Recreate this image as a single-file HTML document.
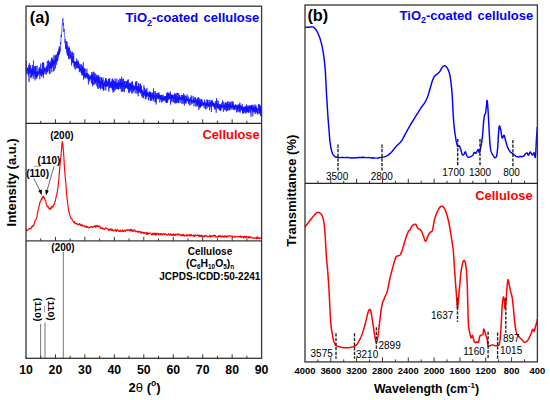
<!DOCTYPE html>
<html><head><meta charset="utf-8"><style>
html,body{margin:0;padding:0;background:#fff;}
svg{display:block;font-family:"Liberation Sans",sans-serif;}
.tl{font-weight:bold;font-size:12.3px;text-anchor:middle;}
.tb{font-weight:bold;font-size:9.4px;text-anchor:middle;}
.pk{font-size:10px;}
</style></head><body>
<svg width="550" height="400" viewBox="0 0 550 400">
<rect width="550" height="400" fill="#fff"/>
<!-- Panel a curves -->
<path d="M26.00,72.33 26.30,60.97 26.60,74.22 26.90,68.11 27.20,70.68 27.50,67.74 27.80,73.91 28.10,68.15 28.40,75.73 28.70,64.95 29.00,81.99 29.30,63.06 29.60,73.35 29.90,67.53 30.20,73.10 30.50,65.26 30.80,78.17 31.10,69.94 31.40,77.43 31.70,68.25 32.00,75.95 32.30,64.85 32.60,74.63 32.90,67.19 33.20,78.62 33.50,60.64 33.80,76.49 34.10,70.55 34.40,73.82 34.70,66.06 35.00,80.39 35.30,66.74 35.60,78.23 35.90,65.71 36.20,77.47 36.50,71.67 36.80,78.77 37.10,65.78 37.40,76.66 37.70,71.78 38.00,75.71 38.30,71.33 38.60,74.38 38.90,68.59 39.20,73.79 39.50,67.15 39.80,79.20 40.10,68.99 40.40,75.44 40.70,63.55 41.00,73.80 41.30,68.84 41.60,76.70 41.90,70.33 42.20,74.75 42.50,62.79 42.80,75.58 43.10,62.20 43.40,78.21 43.70,62.78 44.00,74.00 44.30,68.35 44.60,71.67 44.90,67.20 45.20,74.31 45.50,68.44 45.80,70.74 46.10,67.89 46.40,74.31 46.70,65.80 47.00,72.03 47.30,60.87 47.60,72.44 47.90,65.73 48.20,71.11 48.50,60.26 48.80,68.27 49.10,62.15 49.40,73.84 49.70,61.72 50.00,73.85 50.30,63.31 50.60,68.05 50.90,60.76 51.20,68.80 51.50,58.11 51.80,72.28 52.10,57.53 52.40,66.95 52.70,59.10 53.00,64.88 53.30,60.69 53.60,71.41 53.90,54.92 54.20,70.79 54.50,59.79 54.80,64.36 55.10,56.05 55.40,68.61 55.70,55.12 56.00,62.10 56.30,54.20 56.60,64.78 56.90,57.55 57.20,61.29 57.50,51.73 57.80,60.34 58.10,51.66 58.40,57.10 58.70,48.83 59.00,55.22 59.30,46.10 59.60,53.77 59.90,47.41 60.20,51.73 60.50,42.24 60.80,44.21 61.10,35.14 61.40,37.03 61.70,30.58 62.00,29.53 62.30,23.02 62.60,22.64 62.90,18.30 63.20,25.37 63.50,23.20 63.80,31.98 64.10,28.93 64.40,34.43 64.70,35.87 65.00,43.38 65.30,39.18 65.60,48.87 65.90,43.84 66.20,49.09 66.50,41.11 66.80,53.24 67.10,41.93 67.40,55.41 67.70,46.56 68.00,55.88 68.30,48.29 68.60,59.03 68.90,46.21 69.20,59.19 69.50,48.07 69.80,57.10 70.10,54.61 70.40,57.75 70.70,50.47 71.00,59.30 71.30,52.31 71.60,65.48 71.90,56.41 72.20,62.91 72.50,51.77 72.80,62.11 73.10,56.08 73.40,63.23 73.70,53.03 74.00,66.59 74.30,61.23 74.60,67.82 74.90,61.62 75.20,69.71 75.50,62.04 75.80,65.03 76.10,61.54 76.40,68.48 76.70,58.29 77.00,67.20 77.30,60.77 77.60,68.04 77.90,60.60 78.20,68.02 78.50,61.67 78.80,68.79 79.10,66.45 79.40,72.13 79.70,63.63 80.00,71.48 80.30,64.51 80.60,71.04 80.90,68.64 81.20,73.22 81.50,64.27 81.80,75.30 82.10,66.64 82.40,75.26 82.70,65.89 83.00,74.49 83.30,62.13 83.60,79.69 83.90,68.96 84.20,77.27 84.50,68.17 84.80,77.48 85.10,68.59 85.40,78.44 85.70,73.78 86.00,76.51 86.30,72.77 86.60,77.03 86.90,68.74 87.20,78.83 87.50,73.27 87.80,78.29 88.10,73.82 88.40,84.49 88.70,74.28 89.00,80.02 89.30,76.34 89.60,81.52 89.90,75.20 90.20,78.42 90.50,76.28 90.80,79.40 91.10,74.98 91.40,83.10 91.70,71.98 92.00,84.24 92.30,74.78 92.60,86.37 92.90,72.57 93.20,79.79 93.50,71.56 93.80,84.98 94.10,77.20 94.40,83.56 94.70,72.67 95.00,84.41 95.30,73.85 95.60,83.17 95.90,78.14 96.20,81.65 96.50,75.46 96.80,85.78 97.10,74.62 97.40,87.42 97.70,76.66 98.00,89.05 98.30,75.38 98.60,83.01 98.90,75.81 99.20,88.18 99.50,77.86 99.80,86.64 100.10,77.02 100.40,89.35 100.70,81.22 101.00,88.37 101.30,77.14 101.60,84.35 101.90,78.46 102.20,88.48 102.50,79.70 102.80,88.86 103.10,77.55 103.40,90.86 103.70,83.29 104.00,90.06 104.30,80.76 104.60,86.40 104.90,82.44 105.20,86.14 105.50,77.92 105.80,90.56 106.10,78.47 106.40,86.97 106.70,79.60 107.00,85.64 107.30,81.42 107.60,86.59 107.90,82.34 108.20,85.78 108.50,79.11 108.80,91.65 109.10,78.76 109.40,88.21 109.70,78.19 110.00,88.17 110.30,81.80 110.60,86.56 110.90,82.73 111.20,87.51 111.50,81.32 111.80,88.29 112.10,78.97 112.40,89.91 112.70,78.61 113.00,92.56 113.30,79.91 113.60,90.66 113.90,81.71 114.20,91.75 114.50,81.53 114.80,87.78 115.10,78.35 115.40,90.03 115.70,80.98 116.00,86.95 116.30,83.18 116.60,89.03 116.90,78.79 117.20,88.74 117.50,82.53 117.80,89.21 118.10,83.02 118.40,89.52 118.70,79.82 119.00,88.55 119.30,82.18 119.60,86.35 119.90,78.48 120.20,89.15 120.50,79.16 120.80,87.72 121.10,82.10 121.40,92.05 121.70,76.68 122.00,86.28 122.30,79.05 122.60,91.57 122.90,82.27 123.20,91.37 123.50,78.67 123.80,86.91 124.10,81.56 124.40,92.22 124.70,80.84 125.00,89.23 125.30,84.74 125.60,87.89 125.90,81.00 126.20,87.31 126.50,81.14 126.80,87.86 127.10,81.94 127.40,89.13 127.70,79.76 128.00,88.69 128.30,79.40 128.60,92.47 128.90,84.08 129.20,93.08 129.50,82.70 129.80,90.30 130.10,83.18 130.40,91.50 130.70,83.69 131.00,89.57 131.30,81.82 131.60,92.61 131.90,83.09 132.20,93.86 132.50,81.27 132.80,89.31 133.10,84.75 133.40,91.22 133.70,85.39 134.00,92.48 134.30,86.07 134.60,89.85 134.90,85.69 135.20,89.11 135.50,81.80 135.80,93.60 136.10,81.85 136.40,90.42 136.70,81.14 137.00,93.74 137.30,85.96 137.60,91.65 137.90,86.89 138.20,96.25 138.50,82.93 138.80,92.84 139.10,84.20 139.40,91.28 139.70,87.41 140.00,92.57 140.30,83.48 140.60,93.76 140.90,84.81 141.20,92.48 141.50,86.22 141.80,96.27 142.10,89.62 142.40,97.73 142.70,90.38 143.00,94.73 143.30,92.07 143.60,98.20 143.90,85.30 144.20,94.97 144.50,87.76 144.80,96.10 145.10,90.85 145.40,99.26 145.70,89.23 146.00,99.03 146.30,90.56 146.60,96.71 146.90,88.09 147.20,96.37 147.50,92.27 147.80,95.78 148.10,92.88 148.40,100.46 148.70,92.64 149.00,96.58 149.30,91.31 149.60,97.48 149.90,91.95 150.20,100.33 150.50,91.87 150.80,100.95 151.10,92.51 151.40,100.53 151.70,94.28 152.00,97.58 152.30,92.64 152.60,98.93 152.90,93.10 153.20,101.17 153.50,88.35 153.80,99.50 154.10,91.51 154.40,97.31 154.70,95.36 155.00,102.26 155.30,91.20 155.60,101.78 155.90,94.78 156.20,104.48 156.50,93.10 156.80,98.55 157.10,95.55 157.40,98.81 157.70,92.95 158.00,97.60 158.30,92.88 158.60,99.24 158.90,92.32 159.20,98.36 159.50,94.47 159.80,102.62 160.10,95.73 160.40,99.91 160.70,95.03 161.00,99.45 161.30,94.82 161.60,102.38 161.90,94.83 162.20,101.71 162.50,96.73 162.80,100.15 163.10,94.68 163.40,100.38 163.70,96.75 164.00,101.35 164.30,96.39 164.60,99.97 164.90,96.12 165.20,100.77 165.50,96.34 165.80,102.28 166.10,95.90 166.40,103.02 166.70,93.19 167.00,102.96 167.30,92.26 167.60,102.46 167.90,92.90 168.20,100.29 168.50,92.70 168.80,99.35 169.10,94.36 169.40,98.89 169.70,93.32 170.00,98.49 170.30,91.37 170.60,104.67 170.90,94.05 171.20,101.63 171.50,95.02 171.80,100.61 172.10,94.91 172.40,98.55 172.70,94.73 173.00,102.44 173.30,94.92 173.60,102.18 173.90,96.68 174.20,99.01 174.50,93.43 174.80,103.45 175.10,93.60 175.40,102.58 175.70,94.84 176.00,103.62 176.30,93.05 176.60,102.52 176.90,96.56 177.20,101.33 177.50,92.85 177.80,102.93 178.10,97.34 178.40,102.83 178.70,93.08 179.00,103.21 179.30,95.21 179.60,100.12 179.90,95.27 180.20,99.30 180.50,97.16 180.80,102.76 181.10,97.22 181.40,99.91 181.70,94.88 182.00,103.97 182.30,95.29 182.60,100.08 182.90,95.14 183.20,103.81 183.50,93.38 183.80,101.65 184.10,96.37 184.40,105.57 184.70,94.53 185.00,103.37 185.30,95.88 185.60,102.68 185.90,98.90 186.20,103.52 186.50,96.54 186.80,101.13 187.10,94.35 187.40,100.59 187.70,98.93 188.00,101.89 188.30,96.55 188.60,104.12 188.90,99.06 189.20,102.27 189.50,99.41 189.80,105.68 190.10,97.95 190.40,101.33 190.70,97.25 191.00,104.78 191.30,95.43 191.60,102.85 191.90,100.24 192.20,103.82 192.50,100.31 192.80,101.92 193.10,95.85 193.40,103.04 193.70,98.27 194.00,106.40 194.30,99.45 194.60,102.56 194.90,97.13 195.20,102.49 195.50,97.48 195.80,106.48 196.10,99.64 196.40,104.68 196.70,99.92 197.00,106.53 197.30,98.10 197.60,105.93 197.90,97.84 198.20,104.57 198.50,97.06 198.80,109.98 199.10,100.86 199.40,107.33 199.70,98.46 200.00,108.17 200.30,101.23 200.60,106.99 200.90,99.13 201.20,106.27 201.50,99.08 201.80,106.22 202.10,99.86 202.40,105.16 202.70,102.54 203.00,105.45 203.30,102.50 203.60,106.07 203.90,102.72 204.20,108.00 204.50,99.63 204.80,104.83 205.10,101.48 205.40,108.86 205.70,103.13 206.00,109.46 206.30,103.01 206.60,105.83 206.90,99.24 207.20,108.18 207.50,100.46 207.80,105.93 208.10,99.90 208.40,106.72 208.70,103.83 209.00,106.61 209.30,102.10 209.60,110.26 209.90,99.66 210.20,105.47 210.50,101.91 210.80,107.19 211.10,101.46 211.40,112.00 211.70,100.06 212.00,105.55 212.30,100.44 212.60,105.64 212.90,101.92 213.20,106.65 213.50,102.75 213.80,107.12 214.10,103.15 214.40,109.48 214.70,104.13 215.00,106.32 215.30,101.13 215.60,109.24 215.90,102.74 216.20,112.76 216.50,98.17 216.80,107.16 217.10,100.26 217.40,108.13 217.70,103.80 218.00,108.99 218.30,101.15 218.60,108.09 218.90,104.33 219.20,109.78 219.50,104.31 219.80,110.42 220.10,104.60 220.40,111.06 220.70,104.31 221.00,110.16 221.30,104.55 221.60,107.84 221.90,102.69 222.20,108.31 222.50,100.36 222.80,107.17 223.10,104.96 223.40,111.81 223.70,101.71 224.00,107.73 224.30,105.01 224.60,109.81 224.90,103.51 225.20,110.38 225.50,102.32 225.80,107.53 226.10,103.52 226.40,111.55 226.70,102.66 227.00,109.02 227.30,101.91 227.60,110.89 227.90,101.25 228.20,110.21 228.50,104.08 228.80,107.40 229.10,101.66 229.40,110.20 229.70,103.56 230.00,110.19 230.30,102.27 230.60,107.93 230.90,101.78 231.20,109.58 231.50,105.68 231.80,107.90 232.10,101.02 232.40,107.65 232.70,103.17 233.00,109.86 233.30,101.73 233.60,109.39 233.90,105.02 234.20,109.37 234.50,105.56 234.80,110.22 235.10,104.84 235.40,107.54 235.70,104.15 236.00,109.39 236.30,105.26 236.60,112.54 236.90,105.37 237.20,109.76 237.50,105.92 237.80,112.03 238.10,104.23 238.40,109.07 238.70,104.93 239.00,112.25 239.30,104.41 239.60,110.92 239.90,102.59 240.20,112.58 240.50,105.06 240.80,110.45 241.10,107.09 241.40,109.77 241.70,105.60 242.00,110.62 242.30,103.82 242.60,113.30 242.90,107.04 243.20,113.26 243.50,106.68 243.80,113.47 244.10,107.43 244.40,112.11 244.70,107.03 245.00,109.98 245.30,105.83 245.60,113.56 245.90,106.84 246.20,112.09 246.50,104.30 246.80,113.10 247.10,106.84 247.40,111.83 247.70,105.65 248.00,112.03 248.30,106.79 248.60,113.04 248.90,105.64 249.20,111.84 249.50,105.34 249.80,109.38 250.10,105.78 250.40,112.89 250.70,106.33 251.00,116.73 251.30,105.02 251.60,109.69 251.90,104.85 252.20,111.32 252.50,105.80 252.80,116.44 253.10,104.77 253.40,111.47 253.70,106.66 254.00,112.50 254.30,107.52 254.60,112.01 254.90,104.35 255.20,114.17 255.50,106.08 255.80,112.54 256.10,105.34 256.40,111.66 256.70,107.24 257.00,113.29 257.30,108.63 257.60,114.64 257.90,108.62 258.20,110.09 258.50,104.11 258.80,113.53 259.10,104.21 259.40,113.36 259.70,105.36 260.00,113.73 260.30,105.56 260.60,116.02 260.90,107.52 261.20,114.30" fill="none" stroke="#0000ff" stroke-width="0.6" stroke-linejoin="round"/>
<path d="M26.00,230.61 26.45,229.89 26.90,230.65 27.35,230.43 27.80,229.82 28.25,229.04 28.70,228.94 29.15,228.97 29.60,228.54 30.05,228.55 30.50,228.73 30.95,229.04 31.40,226.95 31.85,227.58 32.30,226.02 32.75,225.57 33.20,226.23 33.65,224.90 34.10,224.66 34.55,222.72 35.00,220.78 35.45,220.37 35.90,219.53 36.35,218.85 36.80,217.37 37.25,214.41 37.70,212.16 38.15,209.58 38.60,208.78 39.05,206.10 39.50,204.30 39.95,202.51 40.40,201.11 40.85,201.25 41.30,199.01 41.75,199.66 42.20,196.98 42.65,197.90 43.10,196.18 43.55,196.21 44.00,198.19 44.45,197.93 44.90,199.87 45.35,199.97 45.80,200.99 46.25,203.89 46.70,205.06 47.15,206.29 47.60,206.83 48.05,206.23 48.50,207.89 48.95,208.50 49.40,208.28 49.85,209.32 50.30,207.92 50.75,209.17 51.20,208.43 51.65,206.71 52.10,206.36 52.55,207.21 53.00,207.04 53.45,204.95 53.90,204.62 54.35,204.41 54.80,201.92 55.25,201.72 55.70,199.27 56.15,196.53 56.60,195.00 57.05,193.06 57.50,190.28 57.95,187.76 58.40,182.84 58.85,179.24 59.30,172.96 59.75,168.29 60.20,163.54 60.65,158.54 61.10,153.85 61.55,149.09 62.00,143.07 62.45,141.52 62.90,144.91 63.35,150.15 63.80,155.82 64.25,164.81 64.70,170.48 65.15,176.14 65.60,180.39 66.05,186.38 66.50,192.61 66.95,197.23 67.40,201.25 67.85,204.50 68.30,207.84 68.75,211.34 69.20,212.40 69.65,214.67 70.10,215.90 70.55,217.70 71.00,218.59 71.45,218.49 71.90,218.75 72.35,219.96 72.80,220.82 73.25,221.57 73.70,222.40 74.15,222.88 74.60,221.50 75.05,223.35 75.50,223.55 75.95,223.88 76.40,223.49 76.85,223.08 77.30,224.41 77.75,224.47 78.20,224.35 78.65,224.92 79.10,223.91 79.55,223.52 80.00,224.61 80.45,225.27 80.90,224.25 81.35,225.54 81.80,226.09 82.25,224.88 82.70,225.82 83.15,226.14 83.60,225.90 84.05,225.54 84.50,225.80 84.95,226.94 85.40,227.15 85.85,226.60 86.30,225.97 86.75,227.51 87.20,227.53 87.65,226.53 88.10,227.30 88.55,227.99 89.00,228.02 89.45,227.32 89.90,227.25 90.35,227.48 90.80,226.68 91.25,226.65 91.70,226.57 92.15,227.54 92.60,226.77 93.05,227.08 93.50,226.65 93.95,226.77 94.40,225.92 94.85,225.61 95.30,227.41 95.75,226.08 96.20,225.47 96.65,226.49 97.10,226.78 97.55,225.55 98.00,226.51 98.45,226.15 98.90,226.67 99.35,225.91 99.80,226.18 100.25,228.35 100.70,228.32 101.15,227.75 101.60,228.06 102.05,227.59 102.50,228.73 102.95,228.13 103.40,229.27 103.85,229.01 104.30,229.20 104.75,229.58 105.20,228.24 105.65,227.89 106.10,228.30 106.55,228.34 107.00,228.22 107.45,228.23 107.90,229.32 108.35,230.02 108.80,229.27 109.25,230.32 109.70,230.32 110.15,228.70 110.60,229.84 111.05,229.50 111.50,229.02 111.95,230.76 112.40,229.43 112.85,230.10 113.30,230.32 113.75,231.01 114.20,230.49 114.65,229.99 115.10,230.16 115.55,229.63 116.00,231.29 116.45,231.39 116.90,229.89 117.35,229.57 117.80,230.04 118.25,230.27 118.70,231.41 119.15,231.45 119.60,231.34 120.05,229.79 120.50,231.29 120.95,231.16 121.40,231.05 121.85,231.74 122.30,229.90 122.75,230.08 123.20,231.31 123.65,231.68 124.10,231.14 124.55,230.37 125.00,230.94 125.45,231.24 125.90,229.90 126.35,230.30 126.80,230.13 127.25,229.83 127.70,230.51 128.15,229.84 128.60,229.95 129.05,229.73 129.50,230.76 129.95,229.41 130.40,230.81 130.85,229.75 131.30,229.42 131.75,231.22 132.20,229.82 132.65,231.27 133.10,231.19 133.55,231.30 134.00,229.87 134.45,230.59 134.90,230.00 135.35,231.77 135.80,231.73 136.25,231.44 136.70,231.23 137.15,231.15 137.60,232.27 138.05,231.72 138.50,232.16 138.95,231.32 139.40,231.59 139.85,231.38 140.30,232.79 140.75,232.56 141.20,231.84 141.65,233.38 142.10,232.26 142.55,232.63 143.00,232.20 143.45,232.51 143.90,233.72 144.35,232.78 144.80,232.52 145.25,233.22 145.70,232.94 146.15,234.17 146.60,232.65 147.05,234.43 147.50,232.63 147.95,234.35 148.40,233.94 148.85,233.07 149.30,233.64 149.75,233.29 150.20,233.27 150.65,233.19 151.10,233.54 151.55,234.83 152.00,234.87 152.45,234.75 152.90,233.12 153.35,233.53 153.80,234.76 154.25,233.11 154.70,234.47 155.15,233.63 155.60,235.02 156.05,233.11 156.50,234.72 156.95,233.81 157.40,233.43 157.85,233.17 158.30,234.85 158.75,234.26 159.20,233.60 159.65,234.11 160.10,235.08 160.55,233.71 161.00,234.43 161.45,233.58 161.90,233.68 162.35,234.88 162.80,234.78 163.25,233.76 163.70,233.54 164.15,233.57 164.60,234.63 165.05,234.42 165.50,233.99 165.95,233.87 166.40,234.70 166.85,234.90 167.30,235.12 167.75,234.68 168.20,233.93 168.65,233.67 169.10,235.02 169.55,234.38 170.00,235.01 170.45,233.69 170.90,235.21 171.35,234.27 171.80,235.29 172.25,235.35 172.70,234.61 173.15,233.67 173.60,235.47 174.05,234.61 174.50,235.41 174.95,234.21 175.40,234.07 175.85,235.37 176.30,234.46 176.75,234.07 177.20,234.50 177.65,234.97 178.10,233.81 178.55,234.86 179.00,234.74 179.45,234.91 179.90,234.15 180.35,235.38 180.80,235.62 181.25,235.76 181.70,234.72 182.15,235.55 182.60,234.93 183.05,235.71 183.50,234.37 183.95,236.04 184.40,236.23 184.85,235.35 185.30,235.42 185.75,235.48 186.20,235.52 186.65,234.51 187.10,236.42 187.55,234.96 188.00,234.89 188.45,234.75 188.90,235.06 189.35,236.21 189.80,234.65 190.25,234.79 190.70,236.01 191.15,235.01 191.60,234.67 192.05,235.84 192.50,235.81 192.95,235.71 193.40,236.08 193.85,234.89 194.30,236.43 194.75,236.14 195.20,234.81 195.65,234.97 196.10,235.72 196.55,235.74 197.00,235.31 197.45,235.00 197.90,235.58 198.35,235.05 198.80,235.97 199.25,236.52 199.70,235.10 200.15,235.96 200.60,236.31 201.05,235.16 201.50,236.49 201.95,236.72 202.40,235.63 202.85,235.71 203.30,236.55 203.75,235.94 204.20,235.68 204.65,236.79 205.10,236.47 205.55,235.60 206.00,235.41 206.45,235.61 206.90,235.83 207.35,236.93 207.80,236.58 208.25,236.81 208.70,236.62 209.15,236.70 209.60,235.12 210.05,236.06 210.50,236.95 210.95,236.91 211.40,235.55 211.85,235.91 212.30,236.34 212.75,235.81 213.20,236.16 213.65,235.24 214.10,235.98 214.55,236.14 215.00,235.18 215.45,235.42 215.90,237.10 216.35,236.72 216.80,237.05 217.25,236.45 217.70,236.82 218.15,236.98 218.60,236.99 219.05,235.30 219.50,236.53 219.95,235.78 220.40,236.62 220.85,235.82 221.30,236.37 221.75,237.15 222.20,236.55 222.65,235.82 223.10,236.37 223.55,236.21 224.00,237.26 224.45,235.94 224.90,235.99 225.35,236.68 225.80,235.64 226.25,236.60 226.70,237.33 227.15,236.46 227.60,235.98 228.05,236.38 228.50,236.53 228.95,235.77 229.40,235.73 229.85,235.76 230.30,236.09 230.75,236.33 231.20,236.11 231.65,236.03 232.10,235.73 232.55,236.66 233.00,237.26 233.45,236.82 233.90,236.75 234.35,236.93 234.80,236.04 235.25,237.08 235.70,236.59 236.15,236.78 236.60,236.93 237.05,236.66 237.50,236.36 237.95,236.24 238.40,236.22 238.85,236.82 239.30,236.58 239.75,237.01 240.20,235.88 240.65,236.58 241.10,237.62 241.55,236.40 242.00,237.06 242.45,236.95 242.90,236.56 243.35,237.99 243.80,236.63 244.25,237.60 244.70,236.40 245.15,236.24 245.60,237.87 246.05,237.03 246.50,236.30 246.95,236.98 247.40,237.11 247.85,237.72 248.30,236.50 248.75,236.75 249.20,238.25 249.65,237.83 250.10,236.69 250.55,237.08 251.00,237.13 251.45,237.80 251.90,237.71 252.35,238.20 252.80,238.17 253.25,237.59 253.70,238.06 254.15,238.09 254.60,238.15 255.05,237.61 255.50,238.25 255.95,238.13 256.40,238.57 256.85,237.02 257.30,238.53 257.75,236.82 258.20,238.37 258.65,238.04 259.10,237.89 259.55,238.84 260.00,238.09 260.45,237.80 260.90,238.56" fill="none" stroke="#ff0000" stroke-width="1.15" stroke-linejoin="round"/>
<!-- reference lines -->
<g stroke="#777" stroke-width="1">
<line x1="40.6" y1="324" x2="40.6" y2="358"/>
<line x1="45" y1="322.5" x2="45" y2="358"/>
<line x1="63.3" y1="252" x2="63.3" y2="358"/>
<line x1="44.5" y1="306" x2="44.5" y2="312.5" stroke="#999"/>
</g>
<!-- Panel b curves -->
<path d="M305.00,27.00 305.42,27.05 306.01,27.13 306.69,27.21 307.38,27.27 308.00,27.30 308.53,27.27 309.04,27.21 309.52,27.13 310.01,27.05 310.50,27.00 311.00,26.95 311.50,26.88 312.00,26.84 312.50,26.87 313.00,27.00 313.50,27.23 314.00,27.54 314.50,27.92 315.00,28.41 315.50,29.00 316.01,29.73 316.52,30.60 317.04,31.54 317.53,32.53 318.00,33.50 318.43,34.43 318.84,35.34 319.22,36.30 319.61,37.33 320.00,38.50 320.41,39.85 320.83,41.34 321.25,42.92 321.64,44.49 322.00,46.00 322.31,47.43 322.58,48.84 322.84,50.22 323.07,51.61 323.30,53.00 323.52,54.35 323.73,55.66 323.92,56.98 324.11,58.41 324.30,60.00 324.49,61.81 324.68,63.78 324.87,65.86 325.04,67.95 325.20,70.00 325.34,71.97 325.46,73.90 325.57,75.86 325.68,77.87 325.80,80.00 325.92,82.26 326.03,84.61 326.15,87.03 326.27,89.50 326.40,92.00 326.55,94.54 326.71,97.15 326.87,99.79 327.04,102.42 327.20,105.00 327.36,107.53 327.51,110.04 327.67,112.52 327.83,115.01 328.00,117.50 328.19,120.04 328.40,122.62 328.60,125.18 328.81,127.66 329.00,130.00 329.17,132.19 329.32,134.28 329.46,136.26 329.62,138.17 329.80,140.00 330.01,141.77 330.24,143.46 330.48,145.08 330.73,146.59 331.00,148.00 331.27,149.30 331.55,150.51 331.85,151.62 332.16,152.62 332.50,153.50 332.86,154.24 333.24,154.86 333.64,155.37 334.06,155.81 334.50,156.20 334.88,156.54 335.20,157.05 335.58,157.07 336.14,157.07 337.00,157.27 338.22,157.38 339.71,157.64 341.39,157.38 343.18,157.48 345.00,157.64 346.87,157.57 348.86,157.59 350.90,157.96 352.97,158.04 355.00,157.80 357.00,157.72 359.00,157.46 361.00,157.46 363.00,157.27 365.00,157.55 367.05,157.61 369.14,157.36 371.22,158.07 373.19,157.74 375.00,158.14 376.62,158.12 378.10,158.15 379.47,157.53 380.76,157.60 382.00,157.40 383.18,157.15 384.27,156.86 385.30,156.51 386.29,156.10 387.25,155.60 388.18,155.02 389.05,154.38 389.90,153.66 390.74,152.86 391.60,152.00 392.46,151.04 393.32,149.97 394.18,148.85 395.06,147.71 396.00,146.60 397.01,145.56 398.08,144.55 399.17,143.53 400.24,142.43 401.25,141.20 402.18,139.81 403.05,138.30 403.90,136.70 404.74,135.09 405.60,133.50 406.51,131.88 407.44,130.18 408.37,128.51 409.23,126.96 410.00,125.60 410.61,124.55 411.08,123.73 411.52,123.01 411.99,122.23 412.60,121.25 413.36,120.02 414.23,118.64 415.15,117.18 416.09,115.69 417.00,114.25 417.89,112.82 418.80,111.35 419.70,109.90 420.57,108.52 421.40,107.25 422.18,106.16 422.93,105.21 423.64,104.31 424.33,103.38 425.00,102.30 425.65,101.07 426.28,99.75 426.88,98.36 427.46,96.93 428.00,95.50 428.50,94.04 428.95,92.55 429.39,91.03 429.81,89.51 430.25,88.00 430.70,86.45 431.15,84.86 431.60,83.28 432.05,81.81 432.50,80.50 432.94,79.37 433.36,78.38 433.80,77.50 434.25,76.72 434.75,76.00 435.31,75.39 435.93,74.89 436.57,74.46 437.19,74.05 437.75,73.60 438.25,73.15 438.70,72.72 439.14,72.28 439.56,71.78 440.00,71.20 440.45,70.46 440.90,69.59 441.35,68.69 441.80,67.86 442.25,67.20 442.71,66.72 443.19,66.35 443.65,66.08 444.10,65.90 444.50,65.80 444.85,65.78 445.15,65.87 445.44,66.03 445.71,66.24 446.00,66.50 446.29,66.75 446.56,67.01 446.85,67.35 447.15,67.82 447.50,68.50 447.91,69.37 448.38,70.40 448.87,71.58 449.34,72.95 449.75,74.50 450.11,76.29 450.43,78.30 450.72,80.48 450.99,82.73 451.25,85.00 451.49,87.21 451.71,89.40 451.91,91.70 452.11,94.19 452.30,97.00 452.49,100.30 452.66,104.01 452.83,107.87 453.01,111.62 453.20,115.00 453.41,117.98 453.62,120.75 453.84,123.33 454.07,125.74 454.30,128.00 454.54,130.11 454.78,132.06 455.03,133.84 455.27,135.49 455.50,137.00 455.71,138.35 455.90,139.52 456.09,140.58 456.29,141.55 456.50,142.50 456.73,143.47 456.97,144.44 457.22,145.31 457.48,146.03 457.75,146.50 458.03,146.58 458.33,146.33 458.64,145.95 458.95,145.69 459.25,145.75 459.55,146.19 459.85,146.87 460.15,147.69 460.45,148.60 460.75,149.50 461.05,150.50 461.35,151.64 461.65,152.78 461.95,153.78 462.25,154.50 462.55,154.91 462.85,155.10 463.15,155.11 463.45,154.98 463.75,154.75 464.05,154.25 464.35,153.46 464.65,152.62 464.95,151.97 465.25,151.75 465.55,152.10 465.85,152.86 466.15,153.82 466.45,154.77 466.75,155.50 467.04,156.02 467.31,156.48 467.60,156.85 467.90,157.12 468.25,157.30 468.65,157.35 469.10,157.28 469.56,157.12 470.04,156.92 470.50,156.70 470.96,156.48 471.44,156.22 471.90,155.93 472.35,155.59 472.75,155.20 473.10,154.68 473.40,154.04 473.69,153.39 473.96,152.84 474.25,152.50 474.55,152.48 474.85,152.70 475.15,153.00 475.45,153.24 475.75,153.25 476.06,152.98 476.37,152.53 476.68,151.99 476.98,151.45 477.25,151.00 477.49,150.58 477.70,150.13 477.89,149.74 478.09,149.50 478.30,149.50 478.53,149.96 478.75,150.83 478.99,151.77 479.24,152.44 479.50,152.50 479.78,151.86 480.08,150.75 480.39,149.31 480.70,147.68 481.00,146.00 481.31,144.29 481.62,142.44 481.93,140.46 482.23,138.31 482.50,136.00 482.75,133.34 482.98,130.33 483.19,127.25 483.40,124.38 483.60,122.00 483.79,120.16 483.97,118.67 484.14,117.45 484.32,116.42 484.50,115.50 484.70,114.80 484.90,114.38 485.11,114.06 485.31,113.66 485.50,113.00 485.67,112.03 485.84,110.88 486.00,109.60 486.15,108.29 486.30,107.00 486.45,105.57 486.59,103.96 486.73,102.40 486.87,101.17 487.00,100.50 487.12,100.44 487.24,100.82 487.36,101.58 487.48,102.66 487.60,104.00 487.73,105.69 487.87,107.76 488.02,110.10 488.16,112.55 488.30,115.00 488.44,117.49 488.58,120.10 488.72,122.78 488.86,125.43 489.00,128.00 489.14,130.53 489.28,133.06 489.42,135.54 489.56,137.87 489.70,140.00 489.83,141.91 489.96,143.66 490.09,145.24 490.23,146.69 490.40,148.00 490.58,149.14 490.76,150.09 490.96,150.92 491.20,151.70 491.50,152.50 491.89,153.33 492.35,154.16 492.85,154.95 493.33,155.66 493.75,156.25 494.10,156.75 494.40,157.19 494.69,157.53 494.96,157.73 495.25,157.75 495.56,157.66 495.87,157.47 496.18,157.10 496.48,156.47 496.75,155.50 496.99,154.10 497.22,152.34 497.43,150.33 497.62,148.18 497.80,146.00 497.96,143.70 498.10,141.19 498.22,138.63 498.35,136.18 498.50,134.00 498.66,131.94 498.82,129.91 498.99,128.10 499.18,126.73 499.40,126.00 499.66,126.07 499.97,126.79 500.29,127.95 500.60,129.29 500.90,130.60 501.16,132.08 501.41,133.89 501.65,135.70 501.90,137.21 502.20,138.10 502.54,138.05 502.92,137.27 503.32,136.24 503.72,135.42 504.10,135.30 504.46,136.03 504.82,137.31 505.18,138.83 505.54,140.78 505.90,141.56 506.26,142.78 506.61,144.30 506.97,145.37 507.36,146.75 507.80,147.69 508.30,148.57 508.86,149.93 509.44,150.58 510.03,151.47 510.60,152.33 511.16,152.66 511.72,153.00 512.28,153.44 512.84,153.54 513.40,154.31 513.95,154.62 514.49,155.09 515.04,155.37 515.62,156.06 516.25,156.43 516.94,156.71 517.69,156.76 518.46,156.92 519.24,156.90 520.00,156.49 520.76,156.43 521.54,156.56 522.31,156.77 523.06,156.17 523.75,156.02 524.39,155.66 525.01,154.40 525.58,153.66 526.11,153.43 526.60,152.98 527.03,152.94 527.39,153.22 527.72,154.48 528.05,154.92 528.40,155.22 528.77,155.02 529.15,154.25 529.54,153.10 529.92,152.24 530.30,152.05 530.68,152.49 531.06,153.15 531.45,153.74 531.83,154.44 532.20,155.09 532.57,154.88 532.95,154.16 533.31,153.95 533.67,153.19 534.00,152.68 534.31,153.70 534.60,155.43 534.88,156.56 535.15,157.61 535.40,156.55 535.64,154.33 535.88,150.89 536.10,146.16 536.30,141.74 536.50,138.10 536.69,135.19 536.88,132.54 537.05,130.21 537.20,128.30 537.30,126.90" fill="none" stroke="#0000ff" stroke-width="1.45" stroke-linejoin="round"/>
<path d="M305.00,227.00 305.39,226.47 305.94,225.74 306.58,224.86 307.29,223.93 308.00,223.00 308.74,222.06 309.53,221.06 310.35,220.03 311.18,219.00 312.00,218.00 312.83,216.96 313.68,215.87 314.52,214.82 315.30,213.90 316.00,213.20 316.58,212.75 317.07,212.48 317.50,212.36 317.93,212.34 318.40,212.40 318.92,212.53 319.45,212.75 319.99,213.07 320.52,213.49 321.00,214.00 321.45,214.58 321.87,215.24 322.27,216.00 322.65,216.91 323.00,218.00 323.33,219.31 323.63,220.82 323.91,222.46 324.17,224.21 324.40,226.00 324.60,227.81 324.76,229.66 324.91,231.62 325.05,233.71 325.20,236.00 325.36,238.58 325.52,241.41 325.68,244.35 325.84,247.26 326.00,250.00 326.16,252.59 326.32,255.14 326.48,257.58 326.64,259.89 326.80,262.00 326.95,263.66 327.09,264.91 327.24,266.13 327.40,267.70 327.60,270.00 327.85,273.23 328.14,277.14 328.44,281.42 328.74,285.81 329.00,290.00 329.23,294.09 329.43,298.26 329.63,302.40 329.81,306.35 330.00,310.00 330.18,313.32 330.34,316.40 330.50,319.27 330.68,321.96 330.90,324.50 331.16,326.87 331.46,329.06 331.78,331.09 332.10,332.96 332.40,334.70 332.67,336.29 332.93,337.72 333.19,339.02 333.47,340.20 333.80,341.30 334.15,342.30 334.52,343.19 334.92,343.98 335.41,344.68 336.00,345.30 336.72,345.82 337.53,346.23 338.43,346.56 339.40,346.85 340.40,347.10 341.47,347.33 342.62,347.53 343.81,347.67 345.02,347.77 346.20,347.80 347.38,347.77 348.59,347.69 349.78,347.56 350.93,347.36 352.00,347.10 352.98,346.81 353.90,346.50 354.76,346.11 355.59,345.59 356.40,344.90 357.18,343.99 357.93,342.91 358.65,341.70 359.34,340.41 360.00,339.10 360.62,337.78 361.21,336.43 361.77,335.00 362.33,333.47 362.90,331.80 363.49,329.93 364.09,327.88 364.69,325.74 365.26,323.62 365.80,321.60 366.30,319.61 366.76,317.59 367.20,315.65 367.62,313.91 368.00,312.50 368.35,311.43 368.66,310.62 368.94,310.05 369.22,309.68 369.50,309.50 369.77,309.40 370.03,309.39 370.29,309.63 370.57,310.28 370.90,311.50 371.29,313.48 371.74,316.12 372.20,319.12 372.67,322.18 373.10,325.00 373.51,327.68 373.91,330.43 374.29,333.08 374.66,335.49 375.00,337.50 375.31,339.17 375.59,340.61 375.86,341.72 376.12,342.42 376.40,342.60 376.69,342.22 376.98,341.35 377.28,340.05 377.59,338.40 377.90,336.50 378.22,334.25 378.54,331.59 378.87,328.66 379.22,325.59 379.60,322.50 380.00,319.22 380.42,315.67 380.86,312.11 381.32,308.80 381.80,306.00 382.31,303.82 382.85,302.09 383.41,300.65 383.96,299.34 384.50,298.00 385.03,296.67 385.57,295.46 386.09,294.30 386.57,293.17 387.00,292.00 387.35,290.83 387.63,289.70 387.88,288.54 388.12,287.33 388.40,286.00 388.68,284.58 388.96,283.11 389.25,281.55 389.59,279.86 390.00,278.00 390.52,275.88 391.11,273.53 391.75,271.09 392.40,268.70 393.00,266.50 393.57,264.42 394.14,262.36 394.70,260.44 395.22,258.78 395.70,257.50 396.11,256.71 396.46,256.32 396.79,256.19 397.13,256.13 397.50,256.00 397.92,255.86 398.37,255.83 398.83,255.78 399.29,255.63 399.75,255.25 400.18,254.70 400.59,254.04 401.02,253.22 401.48,252.14 402.00,250.75 402.61,248.88 403.30,246.58 404.02,244.08 404.73,241.64 405.40,239.50 406.03,237.60 406.66,235.80 407.26,234.15 407.81,232.72 408.30,231.60 408.69,230.92 409.00,230.62 409.28,230.51 409.56,230.37 409.90,230.00 410.28,229.32 410.68,228.47 411.10,227.56 411.57,226.70 412.10,226.00 412.72,225.41 413.43,224.84 414.17,224.39 414.87,224.15 415.50,224.20 416.01,224.66 416.43,225.49 416.83,226.48 417.25,227.46 417.75,228.25 418.37,228.76 419.06,229.12 419.78,229.45 420.48,229.86 421.10,230.50 421.63,231.41 422.10,232.52 422.54,233.73 422.96,234.95 423.40,236.10 423.84,237.33 424.28,238.71 424.72,239.99 425.16,240.93 425.60,241.30 426.06,240.90 426.52,239.90 426.98,238.58 427.44,237.22 427.90,236.10 428.34,235.22 428.78,234.38 429.22,233.61 429.66,232.91 430.10,232.30 430.56,231.96 431.02,231.89 431.48,231.80 431.94,231.43 432.40,230.50 432.83,228.82 433.23,226.57 433.64,224.04 434.08,221.51 434.60,219.25 435.20,217.23 435.87,215.25 436.58,213.39 437.30,211.70 438.00,210.25 438.68,209.01 439.36,207.94 440.04,207.08 440.72,206.49 441.40,206.20 442.07,206.22 442.74,206.51 443.41,207.08 444.08,207.94 444.75,209.10 445.43,210.58 446.11,212.37 446.79,214.44 447.46,216.75 448.10,219.25 448.72,222.05 449.33,225.18 449.91,228.49 450.47,231.81 451.00,235.00 451.50,238.05 451.99,241.05 452.44,244.04 452.84,247.01 453.20,250.00 453.48,253.00 453.70,256.00 453.89,259.00 454.06,262.00 454.25,265.00 454.46,268.05 454.68,271.14 454.89,274.22 455.10,277.19 455.30,280.00 455.49,282.62 455.68,285.09 455.85,287.45 456.03,289.74 456.20,292.00 456.37,294.27 456.54,296.53 456.71,298.71 456.86,300.72 457.00,302.50 457.11,304.17 457.21,305.79 457.29,307.15 457.39,308.05 457.50,308.30 457.63,307.78 457.78,306.62 457.94,305.00 458.11,303.07 458.30,301.00 458.51,298.72 458.74,296.12 458.98,293.31 459.23,290.40 459.50,287.50 459.78,284.50 460.08,281.32 460.39,278.14 460.70,275.14 461.00,272.50 461.30,270.22 461.60,268.18 461.90,266.38 462.20,264.82 462.50,263.50 462.80,262.42 463.10,261.58 463.40,260.98 463.70,260.62 464.00,260.50 464.30,260.60 464.61,260.91 464.92,261.47 465.22,262.32 465.50,263.50 465.77,265.03 466.03,266.90 466.27,269.04 466.50,271.43 466.70,274.00 466.88,276.86 467.03,280.05 467.17,283.41 467.29,286.78 467.40,290.00 467.49,292.99 467.57,295.85 467.63,298.71 467.71,301.72 467.80,305.00 467.91,308.83 468.03,313.11 468.17,317.44 468.32,321.44 468.50,324.70 468.70,327.08 468.93,328.83 469.18,330.19 469.44,331.38 469.70,332.60 469.97,333.95 470.25,335.29 470.54,336.48 470.82,337.39 471.10,337.90 471.37,337.76 471.63,337.06 471.89,336.15 472.15,335.41 472.40,335.20 472.64,335.65 472.88,336.52 473.11,337.60 473.35,338.70 473.60,339.60 473.86,340.35 474.13,341.08 474.41,341.73 474.70,342.26 475.00,342.60 475.32,342.68 475.65,342.54 476.00,342.29 476.35,342.04 476.70,341.90 477.06,342.00 477.43,342.26 477.80,342.49 478.16,342.53 478.50,342.20 478.78,341.32 479.01,340.01 479.24,338.53 479.52,337.14 479.90,336.10 480.43,335.54 481.09,335.28 481.78,335.13 482.42,334.90 482.90,334.40 483.19,333.43 483.35,332.12 483.44,330.76 483.54,329.65 483.70,329.10 483.94,329.22 484.22,329.82 484.52,330.71 484.82,331.70 485.10,332.60 485.37,333.45 485.65,334.38 485.92,335.33 486.17,336.22 486.40,337.00 486.59,337.58 486.75,338.00 486.90,338.39 487.04,338.88 487.20,339.60 487.36,340.69 487.51,342.08 487.67,343.53 487.86,344.81 488.10,345.70 488.39,346.10 488.72,346.18 489.08,346.05 489.47,345.85 489.90,345.70 490.37,345.57 490.88,345.36 491.42,345.14 491.97,344.97 492.50,344.90 493.01,344.98 493.51,345.16 494.01,345.38 494.54,345.58 495.10,345.70 495.75,345.77 496.46,345.83 497.18,345.82 497.85,345.70 498.40,345.40 498.81,344.98 499.12,344.48 499.36,343.81 499.58,342.88 499.80,341.60 500.03,339.90 500.24,337.85 500.43,335.54 500.62,333.09 500.80,330.60 500.98,328.00 501.14,325.23 501.30,322.38 501.45,319.57 501.60,316.90 501.73,314.34 501.85,311.83 501.96,309.40 502.09,307.11 502.25,305.00 502.45,302.94 502.68,300.89 502.93,299.06 503.17,297.66 503.40,296.90 503.62,296.93 503.83,297.60 504.04,298.70 504.23,300.00 504.40,301.25 504.54,302.75 504.65,304.64 504.75,306.50 504.86,307.93 505.00,308.50 505.18,308.06 505.38,306.90 505.59,305.22 505.80,303.27 506.00,301.25 506.18,299.03 506.36,296.46 506.54,293.75 506.72,291.11 506.90,288.75 507.09,286.52 507.29,284.27 507.49,282.25 507.69,280.66 507.90,279.75 508.11,279.66 508.31,280.25 508.52,281.27 508.75,282.52 509.00,283.75 509.29,285.07 509.62,286.62 509.96,288.26 510.29,289.85 510.60,291.25 510.88,292.35 511.15,293.25 511.40,294.10 511.65,295.05 511.90,296.25 512.14,297.60 512.36,299.00 512.58,300.60 512.82,302.55 513.10,305.00 513.42,308.25 513.78,312.20 514.15,316.39 514.53,320.38 514.90,323.70 515.25,326.32 515.60,328.53 515.94,330.41 516.31,332.01 516.70,333.40 517.12,334.49 517.56,335.25 518.02,335.79 518.50,336.27 519.00,336.80 519.53,337.38 520.09,337.93 520.66,338.45 521.24,338.96 521.80,339.50 522.34,340.12 522.88,340.81 523.42,341.48 523.96,342.01 524.50,342.30 525.07,342.32 525.65,342.14 526.23,341.81 526.79,341.38 527.30,340.90 527.75,340.37 528.15,339.75 528.53,339.06 528.91,338.30 529.30,337.50 529.72,336.61 530.17,335.62 530.61,334.59 531.02,333.60 531.40,332.70 531.73,331.83 532.02,330.94 532.28,330.13 532.54,329.52 532.80,329.20 533.06,329.37 533.32,329.97 533.58,330.69 533.84,331.23 534.10,331.30 534.37,330.78 534.65,329.88 534.94,328.75 535.22,327.57 535.50,326.50 535.80,325.51 536.11,324.48 536.41,323.47 536.68,322.53 536.90,321.70 537.05,320.98 537.15,320.34 537.22,319.78 537.26,319.33 537.30,319.00" fill="none" stroke="#ff0000" stroke-width="1.5" stroke-linejoin="round"/>
<!-- frames -->
<g fill="none" stroke="#3a3a3a" stroke-width="1.35">
<rect x="26" y="6.2" width="235.60000000000002" height="352.1"/>
<line x1="26" y1="123.3" x2="261.6" y2="123.3" stroke="#262626" stroke-width="1.2"/>
<line x1="26" y1="240.9" x2="261.6" y2="240.9"/>
<rect x="305" y="5" width="232.39999999999998" height="356.9"/>
<line x1="305" y1="183.3" x2="537.4" y2="183.3" stroke="#262626" stroke-width="1.2"/>
</g>
<path d="M40.73,123.3v-2.5M55.45,123.3v-4M70.18,123.3v-2.5M84.90,123.3v-4M99.63,123.3v-2.5M114.35,123.3v-4M129.07,123.3v-2.5M143.80,123.3v-4M158.53,123.3v-2.5M173.25,123.3v-4M187.98,123.3v-2.5M202.70,123.3v-4M217.43,123.3v-2.5M232.15,123.3v-4M246.88,123.3v-2.5M40.73,240.9v-2.5M55.45,240.9v-4M70.18,240.9v-2.5M84.90,240.9v-4M99.63,240.9v-2.5M114.35,240.9v-4M129.07,240.9v-2.5M143.80,240.9v-4M158.53,240.9v-2.5M173.25,240.9v-4M187.98,240.9v-2.5M202.70,240.9v-4M217.43,240.9v-2.5M232.15,240.9v-4M246.88,240.9v-2.5M40.73,358.3v-2.5M55.45,358.3v-4M70.18,358.3v-2.5M84.90,358.3v-4M99.63,358.3v-2.5M114.35,358.3v-4M129.07,358.3v-2.5M143.80,358.3v-4M158.53,358.3v-2.5M173.25,358.3v-4M187.98,358.3v-2.5M202.70,358.3v-4M217.43,358.3v-2.5M232.15,358.3v-4M246.88,358.3v-2.5M317.91,183.3v-2.5M330.82,183.3v-4.5M343.73,183.3v-2.5M356.64,183.3v-4.5M369.56,183.3v-2.5M382.47,183.3v-4.5M395.38,183.3v-2.5M408.29,183.3v-4.5M421.20,183.3v-2.5M434.11,183.3v-4.5M447.02,183.3v-2.5M459.93,183.3v-4.5M472.84,183.3v-2.5M485.76,183.3v-4.5M498.67,183.3v-2.5M511.58,183.3v-4.5M524.49,183.3v-2.5M317.91,361.9v-2.5M330.82,361.9v-4.5M343.73,361.9v-2.5M356.64,361.9v-4.5M369.56,361.9v-2.5M382.47,361.9v-4.5M395.38,361.9v-2.5M408.29,361.9v-4.5M421.20,361.9v-2.5M434.11,361.9v-4.5M447.02,361.9v-2.5M459.93,361.9v-4.5M472.84,361.9v-2.5M485.76,361.9v-4.5M498.67,361.9v-2.5M511.58,361.9v-4.5M524.49,361.9v-2.5" stroke="#333" stroke-width="1" fill="none"/>
<!-- dashed markers -->
<g stroke="#222" stroke-width="1.4" stroke-dasharray="3.2,1.4">
<line x1="338" y1="144.5" x2="338" y2="170.4"/><line x1="382" y1="144.5" x2="382" y2="170.4"/><line x1="457.7" y1="139" x2="457.7" y2="165.3"/><line x1="480" y1="139" x2="480" y2="165.3"/><line x1="512.9" y1="140" x2="512.9" y2="166.3"/>
<line x1="336" y1="333.3" x2="336" y2="358.7"/><line x1="354.5" y1="333.3" x2="354.5" y2="358.7"/><line x1="376.4" y1="327.2" x2="376.4" y2="349.3"/><line x1="457.5" y1="297.5" x2="457.5" y2="322"/><line x1="488.1" y1="331.7" x2="488.1" y2="358"/><line x1="497.6" y1="332.6" x2="497.6" y2="359.5"/><line x1="505.8" y1="298" x2="505.8" y2="332.7"/>
</g>
<!-- arrows -->
<g stroke="#444" stroke-width="0.8">
<line x1="33.8" y1="178.5" x2="40.5" y2="191.5"/>
<line x1="54" y1="166.3" x2="46.8" y2="191.5"/>
</g>
<path d="M41.8,195.3 L38.2,190.8 L41.9,189.6 Z M46,195.6 L45.2,189.8 L48.8,190.8 Z" fill="#000"/>
<line x1="33.8" y1="166.3" x2="40.6" y2="166.3" stroke="#888" stroke-width="0.8"/>
<!-- labels panel a -->
<text transform="translate(29.8,22.8) scale(1,1.03)" font-weight="bold" font-size="16.3">(a)</text>
<text transform="translate(259.2,22.4) scale(1,1.05)" font-weight="bold" font-size="13" fill="#0000ff" text-anchor="end" word-spacing="1.8">TiO<tspan font-size="9" dy="3">2</tspan><tspan dy="-3">-coated cellulose</tspan></text>
<text x="259.7" y="138.9" font-weight="bold" font-size="12.9" fill="#ff0000" text-anchor="end">Cellulose</text>
<g font-weight="bold" font-size="10">
<text x="61.9" y="139" text-anchor="middle">(200)</text>
<text x="49" y="163.6" text-anchor="middle">(110)</text>
<text x="37.6" y="177.4" text-anchor="middle">(110)</text>
<text x="63" y="251" text-anchor="middle">(200)</text>
</g>
<g font-weight="bold" font-size="10" text-anchor="middle">
<text x="210" y="255.4">Cellulose</text>
<text x="210.1" y="267" font-size="10.4">(C<tspan font-size="6.4" dy="2">6</tspan><tspan dy="-2">H</tspan><tspan font-size="6.4" dy="2">10</tspan><tspan dy="-2">O</tspan><tspan font-size="6.4" dy="2">5</tspan><tspan dy="-2">)</tspan><tspan font-size="6.4" dy="2">n</tspan></text>
<text x="209.8" y="279.6">JCPDS-ICDD:50-2241</text>
</g>
<g font-weight="bold" font-size="10">
<text transform="translate(34.6,309.7) rotate(90) scale(1.1,1)" text-anchor="middle" font-size="9.5">(110)</text>
<text transform="translate(47.9,308.8) rotate(90) scale(1.1,1)" text-anchor="middle" font-size="9.5">(110)</text>
</g>
<text x="26.00" y="373.6" class="tl">10</text><text x="55.45" y="373.6" class="tl">20</text><text x="84.90" y="373.6" class="tl">30</text><text x="114.35" y="373.6" class="tl">40</text><text x="143.80" y="373.6" class="tl">50</text><text x="173.25" y="373.6" class="tl">60</text><text x="202.70" y="373.6" class="tl">70</text><text x="232.15" y="373.6" class="tl">80</text><text x="261.60" y="373.6" class="tl">90</text>
<text x="144.6" y="392" font-size="13" font-weight="bold" text-anchor="middle">2<tspan font-weight="normal">θ</tspan> (<tspan font-size="8.5" dy="-6.5">o</tspan><tspan dy="6.5">)</tspan></text>
<text transform="translate(15.6,182.4) rotate(-90)" font-weight="bold" font-size="13" text-anchor="middle">Intensity (a.u.)</text>
<!-- labels panel b -->
<text transform="translate(307.4,20.6) scale(1,1.03)" font-weight="bold" font-size="16.3">(b)</text>
<text transform="translate(533.2,20) scale(1,1.05)" font-weight="bold" font-size="13" fill="#0000ff" text-anchor="end" word-spacing="1.8">TiO<tspan font-size="9" dy="3">2</tspan><tspan dy="-3">-coated cellulose</tspan></text>
<text x="532.6" y="200" font-weight="bold" font-size="12.9" fill="#ff0000" text-anchor="end">Cellulose</text>
<g class="pk" text-anchor="middle">
<text x="337.1" y="180">3500</text>
<text x="381.8" y="180">2800</text>
<text x="453.4" y="176.2">1700</text>
<text x="480" y="176.2">1300</text>
<text x="511.5" y="176.3">800</text>
</g>
<g class="pk">
<text x="332.8" y="357.3" text-anchor="end">3575</text>
<text x="356" y="358">3210</text>
<text x="378.5" y="349.3">2899</text>
<text x="453.3" y="318.6" text-anchor="end">1637</text>
<text x="484.8" y="354.5" text-anchor="end">1160</text>
<text x="503" y="342.3">897</text>
<text x="500" y="354">1015</text>
</g>
<text x="305.00" y="374" class="tb">4000</text><text x="330.82" y="374" class="tb">3600</text><text x="356.64" y="374" class="tb">3200</text><text x="382.47" y="374" class="tb">2800</text><text x="408.29" y="374" class="tb">2400</text><text x="434.11" y="374" class="tb">2000</text><text x="459.93" y="374" class="tb">1600</text><text x="485.76" y="374" class="tb">1200</text><text x="511.58" y="374" class="tb">800</text><text x="537.40" y="374" class="tb">400</text>
<text x="426.5" y="392.6" font-weight="bold" font-size="12.3" text-anchor="middle">Wavelength (cm<tspan font-size="8" dy="-5">-1</tspan><tspan dy="5">)</tspan></text>
<text transform="translate(295.6,190.7) rotate(-90)" font-weight="bold" font-size="13" text-anchor="middle">Transmittance (%)</text>
</svg>
</body></html>
